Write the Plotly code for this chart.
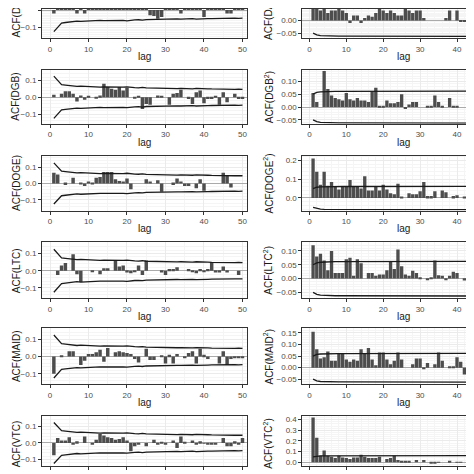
import plotly.graph_objects as go

W = H = 474
lags = list(range(1, 51))
names = ["DASH", "DGB", "DOGE", "LTC", "MAID", "VTC"]

ret = {
 "DASH": [-0.02,0.03,0.02,0.02,0.03,0.02,-0.02,0.02,-0.02,0.03,0.02,0.02,0.03,0.02,0.03,0.02,0.03,0.02,0.02,0.03,0.02,0.02,0.03,0.02,0.02,-0.03,-0.035,-0.05,-0.04,0.02,0.03,0.02,0.02,-0.02,0.02,0.02,0.03,0.02,0.02,-0.04,0.02,0.03,0.02,0.02,0.03,-0.02,-0.02,0.02,0.02,0.02],
 "DGB": [0.015,0.0,0.02,0.035,0.035,0.02,-0.025,0.01,-0.015,0.005,0.0,-0.005,0.01,0.08,0.06,0.05,0.045,0.06,0.04,0.055,0.0,-0.005,0.005,-0.07,-0.04,-0.045,0.0,0.01,0.005,0.0,-0.045,0.02,0.025,0.045,0.0,-0.01,-0.04,0.03,0.04,-0.035,-0.01,-0.01,0.005,-0.045,0.03,-0.03,0.0,0.02,-0.01,-0.01],
 "DOGE": [0.065,0.055,0.0,-0.01,0.0,0.035,0.0,-0.005,-0.015,0.01,-0.005,0.035,0.04,0.07,0.07,0.07,0.025,0.015,0.01,0.03,-0.035,0.0,0.0,0.0,0.025,0.01,0.0,0.02,-0.05,0.0,0.0,-0.01,0.03,0.01,-0.015,-0.015,0.0,-0.03,0.025,-0.045,0.0,0.0,0.0,0.0,0.065,0.045,-0.025,0.0,0.0,0.0],
 "LTC": [0.0,-0.025,0.03,0.045,0.0,0.095,-0.02,-0.065,0.0,0.0,-0.005,0.0,-0.02,0.015,0.015,0.0,0.06,0.025,0.03,-0.01,-0.015,-0.005,0.03,-0.025,0.06,0.0,0.0,0.0,-0.01,-0.025,0.01,0.01,0.02,0.0,0.0,0.01,-0.005,-0.015,0.01,-0.005,0.01,0.05,-0.01,-0.01,0.025,-0.01,0.0,0.0,-0.025,0.0],
 "MAID": [-0.1,0.0,0.003,0.0,0.03,0.03,0.0,-0.05,-0.025,0.015,0.015,0.025,0.04,-0.03,0.05,0.0,0.025,0.03,0.025,0.02,0.015,-0.015,-0.035,0.0,0.045,-0.02,-0.02,0.0,0.005,-0.04,0.01,-0.04,0.015,0.0,-0.01,0.02,0.03,-0.04,0.045,0.01,-0.015,0.0,0.0,-0.04,0.03,-0.05,-0.015,-0.01,-0.01,-0.01],
 "VTC": [-0.075,0.03,0.015,0.015,0.035,-0.01,0.01,0.0,0.04,0.0,-0.01,0.02,0.055,0.045,0.035,0.03,0.02,0.025,0.035,0.015,-0.05,-0.02,-0.01,0.0,-0.02,0.0,0.02,-0.01,0.005,-0.01,0.0,0.015,-0.03,0.04,0.005,0.0,0.015,-0.01,0.01,-0.005,-0.01,-0.01,-0.01,0.0,0.03,-0.02,-0.02,0.01,-0.01,0.03],
}
sq = {
 "DASH": [0.06,0.05,0.04,0.05,0.03,0.04,0.04,0.05,0.04,0.03,-0.01,0.02,0.02,-0.01,0.01,0.02,0.015,0.03,0.05,0.04,0.03,0.04,0.03,0.02,0.02,0.05,0.04,0.03,0.04,0.04,0.01,0.0,0.0,0.0,0.0,0.0,0.01,0.04,0.0,0.04,-0.005,-0.005,-0.015,-0.005,0.01,0.01,0.0,0.0,0.0,0.0],
 "DGB": [0.055,0.02,0.0,0.14,0.07,0.045,0.035,0.03,0.025,0.055,0.03,0.025,0.035,0.025,0.025,0.02,0.06,0.075,0.005,0.005,0.025,0.015,0.015,0.02,0.05,-0.008,0.01,0.02,0.02,0.0,0.0,0.005,0.005,0.045,0.02,0.005,0.0,0.035,0.005,0.005,0.0,0.0,0.01,0.03,0.0,-0.01,0.0,0.0,0.0,0.0],
 "DOGE": [0.21,0.14,0.07,0.14,0.065,0.085,0.06,0.045,0.06,0.06,0.095,0.06,0.06,0.05,0.115,0.04,0.04,0.06,0.04,0.07,0.045,0.025,0.02,0.075,0.005,0.0,0.025,0.02,0.02,0.035,0.085,0.01,0.01,0.035,0.0,0.04,0.03,0.0,0.01,0.015,0.0,0.005,0.015,0.025,0.07,0.035,0.0,0.0,0.0,0.0],
 "LTC": [0.12,0.08,0.09,0.065,0.03,0.10,0.02,0.02,0.02,0.07,0.075,0.01,0.07,0.055,0.0,0.02,0.02,0.01,0.015,0.015,0.03,0.06,0.035,0.105,0.045,0.015,0.01,0.028,0.02,0.005,0.0,-0.005,0.005,0.065,0.012,0.01,-0.005,0.01,0.025,0.02,0.0,-0.007,0.02,0.005,0.005,0.005,0.0,0.0,0.0,0.0],
 "MAID": [0.155,0.08,0.04,0.045,0.07,0.03,0.03,0.06,0.06,0.035,0.025,0.035,0.03,0.08,0.06,0.085,0.035,0.01,0.065,0.065,0.035,0.015,0.03,0.065,0.035,0.0,0.0,0.015,0.04,0.04,-0.005,0.02,0.0,0.015,0.065,0.03,0.0,0.005,0.005,0.045,0.025,-0.03,0.005,0.01,0.01,0.01,0.0,0.0,0.0,0.0],
 "VTC": [0.42,0.23,0.06,0.11,0.06,0.05,0.04,0.06,0.045,0.04,0.03,0.045,0.045,0.07,0.05,0.04,0.04,0.04,0.05,0.0,0.03,0.04,0.06,0.02,0.01,0.01,0.01,0.0,0.02,0.0,0.02,0.0,-0.01,-0.01,-0.005,0.0,0.0,0.005,0.0,-0.005,-0.005,0.0,-0.005,0.0,0.0,0.0,0.0,0.0,0.0,0.0],
}
band_left = [0.125,0.10,0.075,0.072,0.068,0.066,0.064,0.066,0.064,0.062,0.063,0.062,0.060,0.061,0.060,0.059,0.058,0.058,0.060,0.062,0.058,0.057,0.056,0.058,0.055,0.054,0.053,0.055,0.054,0.052,0.053,0.052,0.051,0.052,0.050,0.051,0.050,0.052,0.050,0.049,0.050,0.049,0.048,0.049,0.048,0.049,0.048,0.047,0.048,0.047]
band_right_up = [0.05,0.057,0.059,0.060,0.060]+[0.061]*10+[0.062]*35
band_right_lo = [-0.05,-0.057,-0.060,-0.061,-0.061]+[-0.062]*10+[-0.063]*35

left_ranges = [[-0.161,0.006],[-0.157,0.163],[-0.165,0.17],[-0.16,0.165],[-0.16,0.165],[-0.14,0.165]]
right_ranges = [[-0.069,0.046],[-0.065,0.145],[-0.067,0.226],[-0.071,0.131],[-0.071,0.171],[-0.036,0.436]]
left_ticks = [-0.1,0.0,0.1]
right_ticks = [[-0.05,0.0,0.05,0.10],[-0.05,0.0,0.05,0.10],[0.0,0.1,0.2],[-0.05,0.0,0.05,0.10],[-0.05,0.0,0.05,0.10,0.15],[0.0,0.1,0.2,0.3,0.4]]
right_ticktext = [["−0.05","0.00","0.05","0.10"],["−0.05","0.00","0.05","0.10"],["0.0","0.1","0.2"],["−0.05","0.00","0.05","0.10"],["−0.05","0.00","0.05","0.10","0.15"],["0.0","0.1","0.2","0.3","0.4"]]

boxes = [(-27,30),(63,119),(152,209),(242,300),(331,389),(422,479)]
def py(p): return 1 - p/H

fig = go.Figure()
lay = dict(width=W, height=H, margin=dict(l=0,r=0,t=0,b=0), showlegend=False,
           paper_bgcolor="white", plot_bgcolor="white", bargap=0.1)
ann = []
tickfont = dict(family="Liberation Sans, Arial", size=8, color="#4d4d4d")
labfont = dict(family="Liberation Sans, Arial", size=10, color="#1a1a1a")
k = 0
for i, nm in enumerate(names):
    top, bot = boxes[i]
    ydom = [max(0, py(bot)), min(1, py(top))]
    for side in (0, 1):
        k += 1
        xa = "x" if k == 1 else f"x{k}"
        ya = "y" if k == 1 else f"y{k}"
        vals = ret[nm] if side == 0 else sq[nm]
        fig.add_trace(go.Bar(x=lags, y=vals, xaxis=xa, yaxis=ya, marker=dict(color="#4d4d4d", line=dict(width=0)), width=0.9))
        if side == 0:
            up = band_left; lo = [-v for v in band_left]
        else:
            up = band_right_up; lo = band_right_lo
        for b in (up, lo):
            fig.add_trace(go.Scatter(x=lags, y=b, xaxis=xa, yaxis=ya, mode="lines", line=dict(color="#1a1a1a", width=1.3)))
        if side == 0:
            xdom = [34/W, 240/W]; xr = [-2.1, 51.3]; tv = left_ticks; tt = ["−0.1","0.0","0.1"]
        else:
            xdom = [295/W, 1.0]; xr = [-1.9, 46.5]; tv = right_ticks[i]; tt = right_ticktext[i]
        axcommon = dict(showline=True, linecolor="#333333", linewidth=1, mirror=True,
                        gridcolor="#ebebeb", gridwidth=0.8, ticks="outside", ticklen=3,
                        tickcolor="#333333", tickfont=tickfont,
                        minor=dict(showgrid=True, gridcolor="#f5f5f5", gridwidth=0.5))
        lay["xaxis" if k == 1 else f"xaxis{k}"] = dict(domain=xdom, range=xr, anchor=ya,
              tickvals=[0,10,20,30,40,50], zeroline=False, **axcommon)
        lay["yaxis" if k == 1 else f"yaxis{k}"] = dict(domain=ydom, range=right_ranges[i] if side else left_ranges[i], anchor=xa,
              tickvals=tv, ticktext=tt, zeroline=True, zerolinecolor="#aaaaaa", zerolinewidth=1, **axcommon)
        ylab = f"ACF({nm})" if side == 0 else f"ACF({nm}<sup>2</sup>)"
        lx = 8 if side == 0 else 261
        ann.append(dict(text=ylab, x=lx/W, y=py((top+bot)/2), xref="paper", yref="paper",
                        textangle=-90, showarrow=False, font=labfont, xanchor="center", yanchor="middle"))
        cx = 137 if side == 0 else 396
        ann.append(dict(text="lag", x=cx/W, y=py(bot+19), xref="paper", yref="paper",
                        showarrow=False, font=labfont, xanchor="center", yanchor="middle"))
lay["annotations"] = ann
fig.update_layout(**lay)
fig.write_html("out.html")
